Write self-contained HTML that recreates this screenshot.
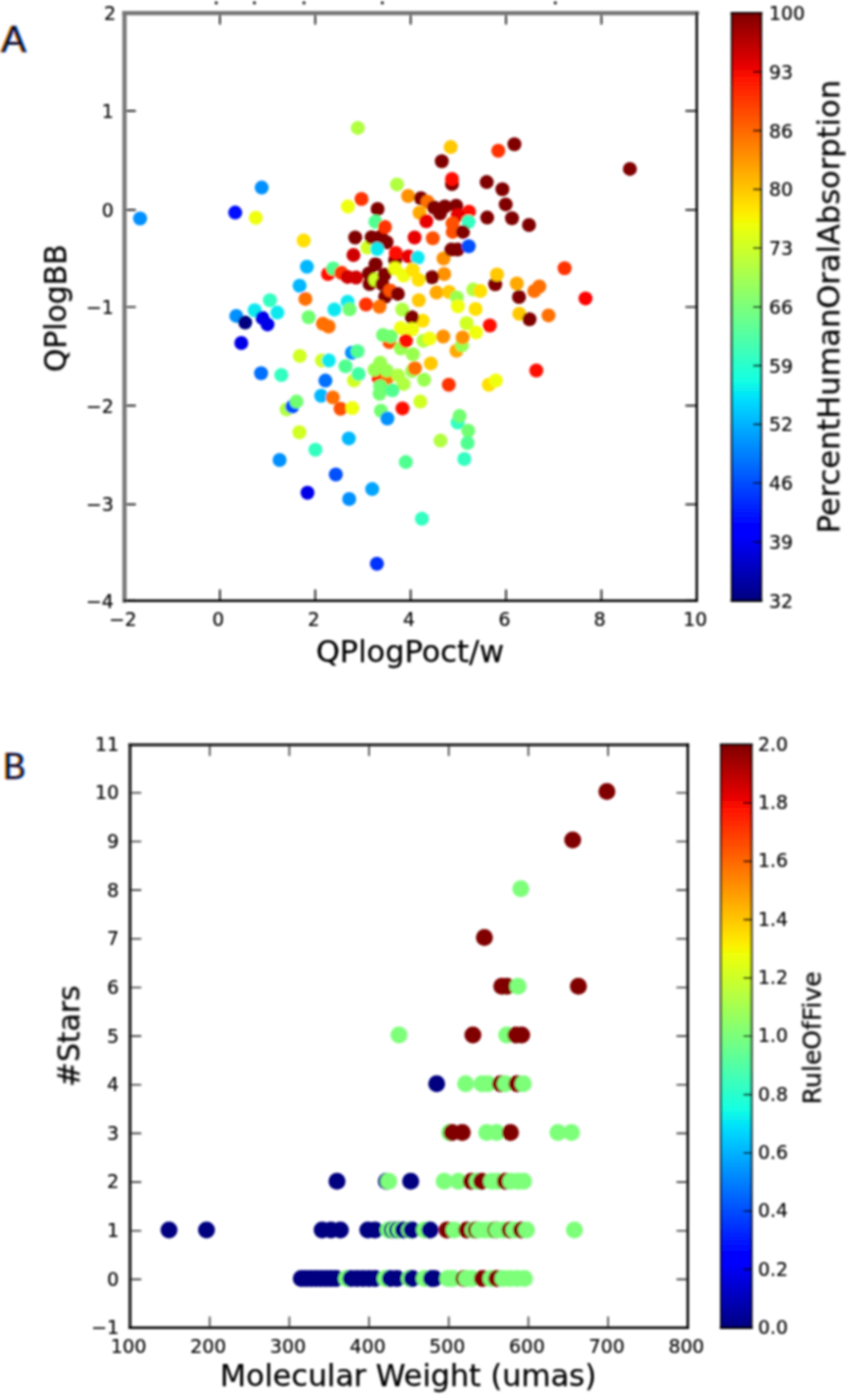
<!DOCTYPE html>
<html><head><meta charset="utf-8"><title>Figure</title>
<style>
html,body{margin:0;padding:0;background:#fff;}
body{width:847px;height:1397px;overflow:hidden;}
svg{display:block;}
.t{font-family:"DejaVu Sans","Liberation Sans",sans-serif;fill:#050505;stroke:#050505;stroke-width:0.25px;}
.k{font-family:"DejaVu Sans","Liberation Sans",sans-serif;fill:#000;stroke:#000;stroke-width:0.2px;}
.pf{font-family:"Liberation Sans","DejaVu Sans",sans-serif;stroke-width:0.5px;}
.p{font-family:"Liberation Sans","DejaVu Sans",sans-serif;fill:#000;stroke:#000;stroke-width:0.5px;}
</style></head><body>
<svg width="847" height="1397" viewBox="0 0 847 1397">
<defs><linearGradient id="jet" x1="0" y1="0" x2="0" y2="1"><stop offset="0.0000" stop-color="#800000"/><stop offset="0.0156" stop-color="#920000"/><stop offset="0.0312" stop-color="#a40000"/><stop offset="0.0469" stop-color="#b60000"/><stop offset="0.0625" stop-color="#c80000"/><stop offset="0.0781" stop-color="#da0000"/><stop offset="0.0938" stop-color="#ec0400"/><stop offset="0.1094" stop-color="#fe1200"/><stop offset="0.1250" stop-color="#ff2100"/><stop offset="0.1406" stop-color="#ff3000"/><stop offset="0.1562" stop-color="#ff3f00"/><stop offset="0.1719" stop-color="#ff4d00"/><stop offset="0.1875" stop-color="#ff5c00"/><stop offset="0.2031" stop-color="#ff6b00"/><stop offset="0.2188" stop-color="#ff7a00"/><stop offset="0.2344" stop-color="#ff8800"/><stop offset="0.2500" stop-color="#ff9700"/><stop offset="0.2656" stop-color="#ffa600"/><stop offset="0.2812" stop-color="#ffb500"/><stop offset="0.2969" stop-color="#ffc300"/><stop offset="0.3125" stop-color="#ffd200"/><stop offset="0.3281" stop-color="#ffe100"/><stop offset="0.3438" stop-color="#fcf000"/><stop offset="0.3594" stop-color="#effe08"/><stop offset="0.3750" stop-color="#e2ff15"/><stop offset="0.3906" stop-color="#d5ff21"/><stop offset="0.4062" stop-color="#c9ff2e"/><stop offset="0.4219" stop-color="#bcff3b"/><stop offset="0.4375" stop-color="#afff48"/><stop offset="0.4531" stop-color="#a2ff55"/><stop offset="0.4688" stop-color="#95ff62"/><stop offset="0.4844" stop-color="#88ff6f"/><stop offset="0.5000" stop-color="#7bff7b"/><stop offset="0.5156" stop-color="#6fff88"/><stop offset="0.5312" stop-color="#62ff95"/><stop offset="0.5469" stop-color="#55ffa2"/><stop offset="0.5625" stop-color="#48ffaf"/><stop offset="0.5781" stop-color="#3bffbc"/><stop offset="0.5938" stop-color="#2effc9"/><stop offset="0.6094" stop-color="#21ffd5"/><stop offset="0.6250" stop-color="#15ffe2"/><stop offset="0.6406" stop-color="#08efef"/><stop offset="0.6562" stop-color="#00dffc"/><stop offset="0.6719" stop-color="#00cfff"/><stop offset="0.6875" stop-color="#00bfff"/><stop offset="0.7031" stop-color="#00afff"/><stop offset="0.7188" stop-color="#009fff"/><stop offset="0.7344" stop-color="#008fff"/><stop offset="0.7500" stop-color="#0080ff"/><stop offset="0.7656" stop-color="#0070ff"/><stop offset="0.7812" stop-color="#0060ff"/><stop offset="0.7969" stop-color="#0050ff"/><stop offset="0.8125" stop-color="#0040ff"/><stop offset="0.8281" stop-color="#0030ff"/><stop offset="0.8438" stop-color="#0020ff"/><stop offset="0.8594" stop-color="#0010ff"/><stop offset="0.8750" stop-color="#0000ff"/><stop offset="0.8906" stop-color="#0000fe"/><stop offset="0.9062" stop-color="#0000ec"/><stop offset="0.9219" stop-color="#0000da"/><stop offset="0.9375" stop-color="#0000c8"/><stop offset="0.9531" stop-color="#0000b6"/><stop offset="0.9688" stop-color="#0000a4"/><stop offset="0.9844" stop-color="#000092"/><stop offset="1.0000" stop-color="#000080"/></linearGradient>
<filter id="soft" x="-5%" y="-5%" width="110%" height="110%"><feGaussianBlur stdDeviation="0.85"/></filter><filter id="softd" x="-5%" y="-5%" width="110%" height="110%"><feGaussianBlur stdDeviation="0.85"/></filter><filter id="fringe" x="-20%" y="-20%" width="140%" height="140%"><feOffset in="SourceAlpha" dx="-1" dy="0" result="a1"/><feFlood flood-color="#ff9a20"/><feComposite in2="a1" operator="in" result="c1"/><feOffset in="SourceAlpha" dx="1" dy="0" result="a2"/><feFlood flood-color="#2080ff"/><feComposite in2="a2" operator="in" result="c2"/><feMerge result="m"><feMergeNode in="c1"/><feMergeNode in="c2"/><feMergeNode in="SourceGraphic"/></feMerge><feGaussianBlur in="m" stdDeviation="0.85"/></filter><filter id="softk" x="-5%" y="-5%" width="110%" height="110%"><feGaussianBlur stdDeviation="0.85"/></filter><filter id="softt" x="-5%" y="-5%" width="110%" height="110%"><feGaussianBlur stdDeviation="0.85"/></filter></defs>
<rect width="847" height="1397" fill="#fff"/>
<g filter="url(#softd)">
<circle cx="140.1" cy="218.5" r="7.0" fill="#0090ff"/><circle cx="235.2" cy="212.6" r="7.0" fill="#0010ff"/><circle cx="261.7" cy="187.6" r="7.0" fill="#0090ff"/><circle cx="255.8" cy="217.8" r="7.0" fill="#f0ff10"/><circle cx="303.7" cy="240.5" r="7.0" fill="#ffe000"/><circle cx="306.9" cy="266.8" r="7.0" fill="#00b8ff"/><circle cx="299.6" cy="285.7" r="7.0" fill="#00b8ff"/><circle cx="305.4" cy="298.9" r="7.0" fill="#ff7000"/><circle cx="269.9" cy="300.3" r="7.0" fill="#30ffc0"/><circle cx="254.7" cy="310.2" r="7.0" fill="#10e8f0"/><circle cx="277.4" cy="312.6" r="7.0" fill="#10e8f0"/><circle cx="236.3" cy="315.9" r="7.0" fill="#0090ff"/><circle cx="245.2" cy="322.5" r="7.0" fill="#000080"/><circle cx="262.5" cy="318.0" r="7.0" fill="#0000e8"/><circle cx="267.5" cy="324.4" r="7.0" fill="#0000e8"/><circle cx="241.3" cy="343.0" r="7.0" fill="#0000e8"/><circle cx="308.6" cy="317.3" r="7.0" fill="#70ff70"/><circle cx="322.9" cy="323.7" r="7.0" fill="#ff7000"/><circle cx="328.6" cy="326.5" r="7.0" fill="#ff7000"/><circle cx="334.4" cy="309.5" r="7.0" fill="#10e8f0"/><circle cx="261.1" cy="373.3" r="7.0" fill="#0070ff"/><circle cx="281.3" cy="375.1" r="7.0" fill="#30ffc0"/><circle cx="299.8" cy="355.9" r="7.0" fill="#d0ff20"/><circle cx="322.0" cy="360.5" r="7.0" fill="#d0ff20"/><circle cx="328.8" cy="360.5" r="7.0" fill="#10e8f0"/><circle cx="325.4" cy="380.6" r="7.0" fill="#0070ff"/><circle cx="321.2" cy="395.8" r="7.0" fill="#00b8ff"/><circle cx="332.8" cy="397.4" r="7.0" fill="#ff7000"/><circle cx="340.5" cy="408.7" r="7.0" fill="#ff5000"/><circle cx="352.3" cy="408.0" r="7.0" fill="#f0ff10"/><circle cx="286.6" cy="409.4" r="7.0" fill="#b0ff40"/><circle cx="292.3" cy="406.6" r="7.0" fill="#0050ff"/><circle cx="296.5" cy="401.6" r="7.0" fill="#70ff70"/><circle cx="299.4" cy="432.3" r="7.0" fill="#d0ff20"/><circle cx="315.4" cy="449.8" r="7.0" fill="#30ffc0"/><circle cx="279.6" cy="460.0" r="7.0" fill="#0090ff"/><circle cx="335.8" cy="474.5" r="7.0" fill="#0050ff"/><circle cx="307.5" cy="492.7" r="7.0" fill="#0000e8"/><circle cx="348.8" cy="438.4" r="7.0" fill="#00b8ff"/><circle cx="349.2" cy="499.0" r="7.0" fill="#0090ff"/><circle cx="372.2" cy="489.1" r="7.0" fill="#00a4ff"/><circle cx="376.9" cy="563.7" r="7.0" fill="#0030ff"/><circle cx="421.9" cy="518.7" r="7.0" fill="#30ffc0"/><circle cx="405.8" cy="462.1" r="7.0" fill="#50ff90"/><circle cx="440.5" cy="440.6" r="7.0" fill="#b0ff40"/><circle cx="457.6" cy="422.5" r="7.0" fill="#30ffc0"/><circle cx="459.5" cy="416.0" r="7.0" fill="#70ff70"/><circle cx="468.2" cy="430.7" r="7.0" fill="#70ff70"/><circle cx="467.5" cy="443.0" r="7.0" fill="#50ff90"/><circle cx="464.3" cy="459.0" r="7.0" fill="#30ffc0"/><circle cx="357.8" cy="127.9" r="7.0" fill="#b0ff40"/><circle cx="450.7" cy="147.1" r="7.0" fill="#ffc800"/><circle cx="441.8" cy="161.2" r="7.0" fill="#800000"/><circle cx="498.3" cy="150.8" r="7.0" fill="#ff3000"/><circle cx="514.4" cy="144.2" r="7.0" fill="#800000"/><circle cx="452.0" cy="184.0" r="7.0" fill="#800000"/><circle cx="452.0" cy="179.0" r="7.0" fill="#ff1000"/><circle cx="486.7" cy="182.1" r="7.0" fill="#800000"/><circle cx="502.4" cy="189.3" r="7.0" fill="#800000"/><circle cx="505.7" cy="204.4" r="7.0" fill="#800000"/><circle cx="487.2" cy="217.6" r="7.0" fill="#800000"/><circle cx="512.0" cy="218.3" r="7.0" fill="#800000"/><circle cx="529.0" cy="225.0" r="7.0" fill="#800000"/><circle cx="629.9" cy="168.9" r="7.0" fill="#800000"/><circle cx="397.0" cy="184.4" r="7.0" fill="#b0ff40"/><circle cx="361.5" cy="199.0" r="7.0" fill="#ff3000"/><circle cx="347.9" cy="206.5" r="7.0" fill="#f0ff10"/><circle cx="377.6" cy="209.0" r="7.0" fill="#800000"/><circle cx="408.1" cy="196.0" r="7.0" fill="#ff9000"/><circle cx="420.9" cy="198.2" r="7.0" fill="#800000"/><circle cx="427.6" cy="201.8" r="7.0" fill="#ff7000"/><circle cx="434.0" cy="207.5" r="7.0" fill="#800000"/><circle cx="444.9" cy="206.5" r="7.0" fill="#800000"/><circle cx="456.2" cy="205.8" r="7.0" fill="#800000"/><circle cx="440.0" cy="213.6" r="7.0" fill="#800000"/><circle cx="419.5" cy="212.8" r="7.0" fill="#ffa800"/><circle cx="426.3" cy="221.3" r="7.0" fill="#e80000"/><circle cx="469.0" cy="211.7" r="7.0" fill="#ff1000"/><circle cx="457.8" cy="215.2" r="7.0" fill="#e80000"/><circle cx="468.5" cy="221.7" r="7.0" fill="#30ffc0"/><circle cx="452.5" cy="223.4" r="7.0" fill="#ff5000"/><circle cx="452.7" cy="231.9" r="7.0" fill="#ff5000"/><circle cx="463.0" cy="231.9" r="7.0" fill="#800000"/><circle cx="432.8" cy="238.2" r="7.0" fill="#ff5000"/><circle cx="414.6" cy="237.5" r="7.0" fill="#e80000"/><circle cx="375.4" cy="221.7" r="7.0" fill="#50ff90"/><circle cx="367.5" cy="247.6" r="7.0" fill="#d0ff20"/><circle cx="355.2" cy="237.5" r="7.0" fill="#800000"/><circle cx="371.7" cy="237.3" r="7.0" fill="#800000"/><circle cx="380.9" cy="236.6" r="7.0" fill="#800000"/><circle cx="386.6" cy="242.3" r="7.0" fill="#800000"/><circle cx="384.9" cy="227.0" r="7.0" fill="#ff3000"/><circle cx="377.1" cy="249.0" r="7.0" fill="#10e8f0"/><circle cx="353.5" cy="255.0" r="7.0" fill="#d00000"/><circle cx="395.1" cy="260.0" r="7.0" fill="#800000"/><circle cx="395.8" cy="252.9" r="7.0" fill="#ff1000"/><circle cx="408.6" cy="256.4" r="7.0" fill="#e80000"/><circle cx="417.8" cy="257.8" r="7.0" fill="#10e8f0"/><circle cx="443.5" cy="258.5" r="7.0" fill="#ff9000"/><circle cx="451.3" cy="249.6" r="7.0" fill="#800000"/><circle cx="457.6" cy="249.6" r="7.0" fill="#800000"/><circle cx="468.7" cy="246.3" r="7.0" fill="#0050ff"/><circle cx="444.2" cy="274.0" r="7.0" fill="#ff9000"/><circle cx="432.1" cy="277.3" r="7.0" fill="#800000"/><circle cx="375.5" cy="264.2" r="7.0" fill="#800000"/><circle cx="328.0" cy="274.0" r="7.0" fill="#ff1000"/><circle cx="333.2" cy="268.5" r="7.0" fill="#50ff90"/><circle cx="341.3" cy="272.7" r="7.0" fill="#ff3000"/><circle cx="347.6" cy="276.9" r="7.0" fill="#d00000"/><circle cx="356.1" cy="277.6" r="7.0" fill="#d00000"/><circle cx="368.9" cy="273.4" r="7.0" fill="#800000"/><circle cx="369.6" cy="284.0" r="7.0" fill="#800000"/><circle cx="375.3" cy="279.8" r="7.0" fill="#d0ff20"/><circle cx="384.5" cy="274.8" r="7.0" fill="#800000"/><circle cx="382.3" cy="284.0" r="7.0" fill="#800000"/><circle cx="385.2" cy="296.8" r="7.0" fill="#800000"/><circle cx="390.1" cy="290.4" r="7.0" fill="#ff5000"/><circle cx="397.9" cy="293.9" r="7.0" fill="#800000"/><circle cx="395.1" cy="268.4" r="7.0" fill="#f0ff10"/><circle cx="403.6" cy="275.5" r="7.0" fill="#f0ff10"/><circle cx="412.8" cy="269.8" r="7.0" fill="#ffe000"/><circle cx="418.5" cy="279.8" r="7.0" fill="#ffe000"/><circle cx="436.5" cy="292.6" r="7.0" fill="#ffa800"/><circle cx="449.1" cy="292.0" r="7.0" fill="#ffc800"/><circle cx="456.9" cy="297.5" r="7.0" fill="#98ff50"/><circle cx="457.9" cy="306.2" r="7.0" fill="#f0ff10"/><circle cx="418.8" cy="300.3" r="7.0" fill="#ffc800"/><circle cx="366.0" cy="304.5" r="7.0" fill="#ff3000"/><circle cx="379.5" cy="306.7" r="7.0" fill="#ff7000"/><circle cx="347.6" cy="301.7" r="7.0" fill="#10e8f0"/><circle cx="349.5" cy="309.2" r="7.0" fill="#70ff70"/><circle cx="402.2" cy="309.5" r="7.0" fill="#b0ff40"/><circle cx="422.7" cy="320.8" r="7.0" fill="#ffe000"/><circle cx="411.8" cy="317.3" r="7.0" fill="#800000"/><circle cx="400.8" cy="327.9" r="7.0" fill="#f0ff10"/><circle cx="412.1" cy="329.3" r="7.0" fill="#f0ff10"/><circle cx="389.4" cy="342.1" r="7.0" fill="#ff5000"/><circle cx="383.0" cy="335.0" r="7.0" fill="#70ff70"/><circle cx="390.8" cy="336.4" r="7.0" fill="#70ff70"/><circle cx="423.4" cy="340.7" r="7.0" fill="#b0ff40"/><circle cx="429.5" cy="338.6" r="7.0" fill="#f0ff10"/><circle cx="443.2" cy="336.5" r="7.0" fill="#ff9000"/><circle cx="473.2" cy="289.6" r="7.0" fill="#b0ff40"/><circle cx="480.3" cy="291.0" r="7.0" fill="#ffe000"/><circle cx="475.6" cy="309.0" r="7.0" fill="#ffe000"/><circle cx="495.2" cy="284.2" r="7.0" fill="#800000"/><circle cx="497.0" cy="274.5" r="7.0" fill="#ffc800"/><circle cx="516.8" cy="283.5" r="7.0" fill="#ffa800"/><circle cx="519.0" cy="297.0" r="7.0" fill="#800000"/><circle cx="539.3" cy="286.5" r="7.0" fill="#ff7000"/><circle cx="534.3" cy="291.0" r="7.0" fill="#ff7000"/><circle cx="519.3" cy="313.8" r="7.0" fill="#ffc800"/><circle cx="529.5" cy="319.2" r="7.0" fill="#800000"/><circle cx="548.5" cy="315.4" r="7.0" fill="#ff7000"/><circle cx="564.6" cy="268.3" r="7.0" fill="#ff3000"/><circle cx="585.5" cy="298.4" r="7.0" fill="#ff0000"/><circle cx="489.8" cy="325.5" r="7.0" fill="#ff1000"/><circle cx="466.6" cy="323.2" r="7.0" fill="#d0ff20"/><circle cx="476.0" cy="332.4" r="7.0" fill="#f0ff10"/><circle cx="456.5" cy="350.8" r="7.0" fill="#ffa800"/><circle cx="461.9" cy="345.2" r="7.0" fill="#98ff50"/><circle cx="462.6" cy="337.4" r="7.0" fill="#ff9000"/><circle cx="430.8" cy="363.4" r="7.0" fill="#ffc800"/><circle cx="536.3" cy="370.5" r="7.0" fill="#ff1000"/><circle cx="488.8" cy="384.8" r="7.0" fill="#ffe000"/><circle cx="495.9" cy="380.5" r="7.0" fill="#f0ff10"/><circle cx="448.8" cy="384.8" r="7.0" fill="#ff3000"/><circle cx="351.9" cy="352.8" r="7.0" fill="#0090ff"/><circle cx="357.5" cy="351.3" r="7.0" fill="#50ff90"/><circle cx="345.5" cy="366.2" r="7.0" fill="#50ff90"/><circle cx="354.0" cy="380.4" r="7.0" fill="#d0ff20"/><circle cx="358.5" cy="374.0" r="7.0" fill="#40ffa0"/><circle cx="378.8" cy="378.3" r="7.0" fill="#ff1000"/><circle cx="387.0" cy="378.3" r="7.0" fill="#ff7000"/><circle cx="380.2" cy="362.7" r="7.0" fill="#98ff50"/><circle cx="374.5" cy="369.8" r="7.0" fill="#98ff50"/><circle cx="386.6" cy="370.5" r="7.0" fill="#98ff50"/><circle cx="397.9" cy="375.4" r="7.0" fill="#b0ff40"/><circle cx="403.6" cy="383.9" r="7.0" fill="#b0ff40"/><circle cx="380.2" cy="386.3" r="7.0" fill="#70ff70"/><circle cx="379.5" cy="393.8" r="7.0" fill="#70ff70"/><circle cx="392.3" cy="390.3" r="7.0" fill="#50ff90"/><circle cx="400.8" cy="348.5" r="7.0" fill="#98ff50"/><circle cx="406.0" cy="340.7" r="7.0" fill="#ff1000"/><circle cx="412.8" cy="354.2" r="7.0" fill="#98ff50"/><circle cx="412.0" cy="371.0" r="7.0" fill="#98ff50"/><circle cx="414.9" cy="368.3" r="7.0" fill="#ff7000"/><circle cx="424.1" cy="379.7" r="7.0" fill="#98ff50"/><circle cx="420.3" cy="401.6" r="7.0" fill="#d0ff20"/><circle cx="402.5" cy="408.4" r="7.0" fill="#ff1000"/><circle cx="380.9" cy="410.8" r="7.0" fill="#70ff70"/><circle cx="387.4" cy="418.5" r="7.0" fill="#0090ff"/>
<circle cx="301.3" cy="1278.6" r="8.5" fill="#000080"/><circle cx="306.0" cy="1278.6" r="8.5" fill="#000080"/><circle cx="311.0" cy="1278.6" r="8.5" fill="#000080"/><circle cx="316.0" cy="1278.6" r="8.5" fill="#000080"/><circle cx="321.0" cy="1278.6" r="8.5" fill="#000080"/><circle cx="326.0" cy="1278.6" r="8.5" fill="#000080"/><circle cx="331.0" cy="1278.6" r="8.5" fill="#000080"/><circle cx="336.0" cy="1278.6" r="8.5" fill="#000080"/><circle cx="346.7" cy="1278.6" r="8.5" fill="#7dff7a"/><circle cx="351.0" cy="1278.6" r="8.5" fill="#000080"/><circle cx="357.0" cy="1278.6" r="8.5" fill="#000080"/><circle cx="363.0" cy="1278.6" r="8.5" fill="#000080"/><circle cx="369.0" cy="1278.6" r="8.5" fill="#000080"/><circle cx="375.0" cy="1278.6" r="8.5" fill="#000080"/><circle cx="385.4" cy="1278.6" r="8.5" fill="#7dff7a"/><circle cx="390.4" cy="1278.6" r="8.5" fill="#000080"/><circle cx="397.0" cy="1278.6" r="8.5" fill="#000080"/><circle cx="409.5" cy="1278.6" r="8.5" fill="#7dff7a"/><circle cx="412.3" cy="1278.6" r="8.5" fill="#000080"/><circle cx="424.4" cy="1278.6" r="8.5" fill="#7dff7a"/><circle cx="431.5" cy="1278.6" r="8.5" fill="#000080"/><circle cx="434.3" cy="1278.6" r="8.5" fill="#000080"/><circle cx="447.8" cy="1278.6" r="8.5" fill="#7dff7a"/><circle cx="453.0" cy="1278.6" r="8.5" fill="#7dff7a"/><circle cx="464.0" cy="1278.6" r="8.5" fill="#800000"/><circle cx="466.5" cy="1278.6" r="8.5" fill="#7dff7a"/><circle cx="472.0" cy="1278.6" r="8.5" fill="#7dff7a"/><circle cx="482.5" cy="1278.6" r="8.5" fill="#800000"/><circle cx="491.0" cy="1278.6" r="8.5" fill="#7dff7a"/><circle cx="496.7" cy="1278.6" r="8.5" fill="#800000"/><circle cx="503.0" cy="1278.6" r="8.5" fill="#7dff7a"/><circle cx="510.0" cy="1278.6" r="8.5" fill="#7dff7a"/><circle cx="517.0" cy="1278.6" r="8.5" fill="#7dff7a"/><circle cx="524.5" cy="1278.6" r="8.5" fill="#7dff7a"/><circle cx="169.0" cy="1229.9" r="8.5" fill="#000080"/><circle cx="206.5" cy="1229.9" r="8.5" fill="#000080"/><circle cx="322.1" cy="1229.9" r="8.5" fill="#000080"/><circle cx="331.0" cy="1229.9" r="8.5" fill="#000080"/><circle cx="340.4" cy="1229.9" r="8.5" fill="#000080"/><circle cx="367.8" cy="1229.9" r="8.5" fill="#000080"/><circle cx="375.0" cy="1229.9" r="8.5" fill="#000080"/><circle cx="388.5" cy="1229.9" r="8.5" fill="#7dff7a"/><circle cx="392.2" cy="1229.9" r="8.5" fill="#000080"/><circle cx="394.3" cy="1229.9" r="8.5" fill="#7dff7a"/><circle cx="397.5" cy="1229.9" r="8.5" fill="#000080"/><circle cx="400.2" cy="1229.9" r="8.5" fill="#7dff7a"/><circle cx="403.4" cy="1229.9" r="8.5" fill="#000080"/><circle cx="409.7" cy="1229.9" r="8.5" fill="#7dff7a"/><circle cx="411.9" cy="1229.9" r="8.5" fill="#000080"/><circle cx="424.6" cy="1229.9" r="8.5" fill="#7dff7a"/><circle cx="430.0" cy="1229.9" r="8.5" fill="#000080"/><circle cx="447.0" cy="1229.9" r="8.5" fill="#800000"/><circle cx="454.2" cy="1229.9" r="8.5" fill="#7dff7a"/><circle cx="466.9" cy="1229.9" r="8.5" fill="#800000"/><circle cx="473.3" cy="1229.9" r="8.5" fill="#7dff7a"/><circle cx="476.1" cy="1229.9" r="8.5" fill="#800000"/><circle cx="479.0" cy="1229.9" r="8.5" fill="#7dff7a"/><circle cx="485.0" cy="1229.9" r="8.5" fill="#7dff7a"/><circle cx="491.0" cy="1229.9" r="8.5" fill="#7dff7a"/><circle cx="496.0" cy="1229.9" r="8.5" fill="#800000"/><circle cx="497.4" cy="1229.9" r="8.5" fill="#7dff7a"/><circle cx="503.0" cy="1229.9" r="8.5" fill="#7dff7a"/><circle cx="510.1" cy="1229.9" r="8.5" fill="#800000"/><circle cx="514.0" cy="1229.9" r="8.5" fill="#7dff7a"/><circle cx="521.5" cy="1229.9" r="8.5" fill="#800000"/><circle cx="526.5" cy="1229.9" r="8.5" fill="#7dff7a"/><circle cx="574.4" cy="1229.9" r="8.5" fill="#7dff7a"/><circle cx="337.0" cy="1181.2" r="8.5" fill="#000080"/><circle cx="386.5" cy="1181.2" r="8.5" fill="#000080"/><circle cx="388.7" cy="1181.2" r="8.5" fill="#7dff7a"/><circle cx="410.7" cy="1181.2" r="8.5" fill="#000080"/><circle cx="444.2" cy="1181.2" r="8.5" fill="#7dff7a"/><circle cx="458.3" cy="1181.2" r="8.5" fill="#7dff7a"/><circle cx="471.4" cy="1181.2" r="8.5" fill="#800000"/><circle cx="477.5" cy="1181.2" r="8.5" fill="#7dff7a"/><circle cx="481.7" cy="1181.2" r="8.5" fill="#800000"/><circle cx="491.6" cy="1181.2" r="8.5" fill="#7dff7a"/><circle cx="497.0" cy="1181.2" r="8.5" fill="#7dff7a"/><circle cx="505.4" cy="1181.2" r="8.5" fill="#800000"/><circle cx="510.8" cy="1181.2" r="8.5" fill="#7dff7a"/><circle cx="518.0" cy="1181.2" r="8.5" fill="#7dff7a"/><circle cx="523.5" cy="1181.2" r="8.5" fill="#7dff7a"/><circle cx="449.5" cy="1132.4" r="8.5" fill="#7dff7a"/><circle cx="452.0" cy="1132.4" r="8.5" fill="#800000"/><circle cx="462.3" cy="1132.4" r="8.5" fill="#800000"/><circle cx="486.7" cy="1132.4" r="8.5" fill="#7dff7a"/><circle cx="496.6" cy="1132.4" r="8.5" fill="#7dff7a"/><circle cx="510.5" cy="1132.4" r="8.5" fill="#800000"/><circle cx="557.9" cy="1132.4" r="8.5" fill="#7dff7a"/><circle cx="571.5" cy="1132.4" r="8.5" fill="#7dff7a"/><circle cx="436.7" cy="1083.7" r="8.5" fill="#000080"/><circle cx="465.6" cy="1083.7" r="8.5" fill="#7dff7a"/><circle cx="482.0" cy="1083.7" r="8.5" fill="#7dff7a"/><circle cx="487.7" cy="1083.7" r="8.5" fill="#7dff7a"/><circle cx="500.6" cy="1083.7" r="8.5" fill="#800000"/><circle cx="505.4" cy="1083.7" r="8.5" fill="#7dff7a"/><circle cx="517.0" cy="1083.7" r="8.5" fill="#800000"/><circle cx="523.3" cy="1083.7" r="8.5" fill="#7dff7a"/><circle cx="399.0" cy="1035.0" r="8.5" fill="#7dff7a"/><circle cx="472.9" cy="1035.0" r="8.5" fill="#800000"/><circle cx="506.7" cy="1035.0" r="8.5" fill="#7dff7a"/><circle cx="516.0" cy="1035.0" r="8.5" fill="#800000"/><circle cx="521.7" cy="1035.0" r="8.5" fill="#800000"/><circle cx="501.8" cy="986.3" r="8.5" fill="#800000"/><circle cx="507.0" cy="986.3" r="8.5" fill="#800000"/><circle cx="518.0" cy="986.3" r="8.5" fill="#7dff7a"/><circle cx="578.4" cy="986.3" r="8.5" fill="#800000"/><circle cx="484.4" cy="937.6" r="8.5" fill="#800000"/><circle cx="520.8" cy="888.8" r="8.5" fill="#7dff7a"/><circle cx="572.7" cy="840.1" r="8.5" fill="#800000"/><circle cx="606.9" cy="791.4" r="8.5" fill="#800000"/>
</g>
<g filter="url(#soft)">
<rect x="214.9" y="1.6" width="2.6" height="2.6" fill="#000"/><rect x="253.1" y="1.6" width="2.6" height="2.6" fill="#000"/><rect x="302.7" y="1.6" width="2.6" height="2.6" fill="#000"/><rect x="381.0" y="1.6" width="2.6" height="2.6" fill="#000"/><rect x="554.0" y="1.6" width="2.6" height="2.6" fill="#000"/><path d="M124.50 600.70v-11.30M124.50 13.10v11.30M219.88 600.70v-11.30M219.88 13.10v11.30M315.27 600.70v-11.30M315.27 13.10v11.30M410.65 600.70v-11.30M410.65 13.10v11.30M506.03 600.70v-11.30M506.03 13.10v11.30M601.42 600.70v-11.30M601.42 13.10v11.30M696.80 600.70v-11.30M696.80 13.10v11.30M124.50 13.10h11.30M696.80 13.10h-11.30M124.50 110.80h11.30M696.80 110.80h-11.30M124.50 209.80h11.30M696.80 209.80h-11.30M124.50 307.00h11.30M696.80 307.00h-11.30M124.50 405.60h11.30M696.80 405.60h-11.30M124.50 504.30h11.30M696.80 504.30h-11.30M124.50 600.70h11.30M696.80 600.70h-11.30" stroke="#111" stroke-width="1.7" fill="none"/>
<path d="M124.50 13.10V600.70" stroke="#747474" stroke-width="4.2" stroke-linecap="square"/><path d="M124.50 13.10H696.80" stroke="#747474" stroke-width="4.2" stroke-linecap="square"/><path d="M696.80 13.10V600.70" stroke="#000" stroke-width="2.4" stroke-linecap="square"/><path d="M124.50 600.70H696.80" stroke="#000" stroke-width="2.4" stroke-linecap="square"/>
<rect x="731.80" y="13.10" width="29.40" height="587.60" fill="url(#jet)"/>
<path d="M761.20 13.10h-8.00M761.20 71.86h-8.00M761.20 130.62h-8.00M761.20 189.38h-8.00M761.20 248.14h-8.00M761.20 306.90h-8.00M761.20 365.66h-8.00M761.20 424.42h-8.00M761.20 483.18h-8.00M761.20 541.94h-8.00M761.20 600.70h-8.00" stroke="#000" stroke-width="1.7" fill="none"/>
<path d="M731.80 13.10V600.70M761.20 13.10V600.70" fill="none" stroke="#000" stroke-width="1.9"/><path d="M731.80 13.10H761.20M731.80 600.70H761.20" fill="none" stroke="#000" stroke-width="2.4" stroke-linecap="square"/>
<path d="M130.00 1327.70v-11.30M130.00 744.80v11.30M209.69 1327.70v-11.30M209.69 744.80v11.30M289.37 1327.70v-11.30M289.37 744.80v11.30M369.06 1327.70v-11.30M369.06 744.80v11.30M448.74 1327.70v-11.30M448.74 744.80v11.30M528.43 1327.70v-11.30M528.43 744.80v11.30M608.11 1327.70v-11.30M608.11 744.80v11.30M687.80 1327.70v-11.30M687.80 744.80v11.30M130.00 744.80h11.30M687.80 744.80h-11.30M130.00 792.80h11.30M687.80 792.80h-11.30M130.00 841.46h11.30M687.80 841.46h-11.30M130.00 890.12h11.30M687.80 890.12h-11.30M130.00 938.78h11.30M687.80 938.78h-11.30M130.00 987.44h11.30M687.80 987.44h-11.30M130.00 1036.10h11.30M687.80 1036.10h-11.30M130.00 1084.76h11.30M687.80 1084.76h-11.30M130.00 1133.42h11.30M687.80 1133.42h-11.30M130.00 1182.08h11.30M687.80 1182.08h-11.30M130.00 1230.74h11.30M687.80 1230.74h-11.30M130.00 1279.40h11.30M687.80 1279.40h-11.30M130.00 1327.70h11.30M687.80 1327.70h-11.30" stroke="#3c3c3c" stroke-width="1.6" fill="none"/>
<path d="M130.00 744.80V1327.70" stroke="#0c0c0c" stroke-width="2.8" stroke-linecap="square"/><path d="M130.00 744.80H687.80" stroke="#0c0c0c" stroke-width="2.8" stroke-linecap="square"/><path d="M687.80 744.80V1327.70" stroke="#000" stroke-width="2.5" stroke-linecap="square"/><path d="M130.00 1327.70H687.80" stroke="#000" stroke-width="2.5" stroke-linecap="square"/>
<rect x="721.00" y="744.80" width="30.60" height="582.90" fill="url(#jet)"/>
<path d="M751.60 744.80h-8.00M751.60 803.09h-8.00M751.60 861.38h-8.00M751.60 919.67h-8.00M751.60 977.96h-8.00M751.60 1036.25h-8.00M751.60 1094.54h-8.00M751.60 1152.83h-8.00M751.60 1211.12h-8.00M751.60 1269.41h-8.00M751.60 1327.70h-8.00" stroke="#000" stroke-width="1.7" fill="none"/>
<path d="M721.00 744.80V1327.70M751.60 744.80V1327.70" fill="none" stroke="#000" stroke-width="1.9"/><path d="M721.00 744.80H751.60M721.00 1327.70H751.60" fill="none" stroke="#000" stroke-width="2.4" stroke-linecap="square"/>
</g>
<g filter="url(#softk)">
<text class="k" x="116.0" y="20.0" font-size="18.8" text-anchor="end">2</text>
<text class="k" x="113.6" y="117.7" font-size="18.8" text-anchor="end">1</text>
<text class="k" x="113.6" y="216.7" font-size="18.8" text-anchor="end">0</text>
<text class="k" x="113.6" y="313.9" font-size="18.8" text-anchor="end">−1</text>
<text class="k" x="113.6" y="412.5" font-size="18.8" text-anchor="end">−2</text>
<text class="k" x="113.6" y="511.2" font-size="18.8" text-anchor="end">−3</text>
<text class="k" x="113.6" y="607.6" font-size="18.8" text-anchor="end">−4</text>
<text class="k" x="122.9" y="626.2" font-size="18.8" text-anchor="middle">−2</text>
<text class="k" x="218.3" y="626.2" font-size="18.8" text-anchor="middle">0</text>
<text class="k" x="313.7" y="626.2" font-size="18.8" text-anchor="middle">2</text>
<text class="k" x="409.0" y="626.2" font-size="18.8" text-anchor="middle">4</text>
<text class="k" x="504.4" y="626.2" font-size="18.8" text-anchor="middle">6</text>
<text class="k" x="599.8" y="626.2" font-size="18.8" text-anchor="middle">8</text>
<text class="k" x="695.2" y="626.2" font-size="18.8" text-anchor="middle">10</text>
<text class="k" x="769.0" y="20.0" font-size="18.8">100</text>
<text class="k" x="769.0" y="78.7" font-size="18.8">93</text>
<text class="k" x="769.0" y="137.5" font-size="18.8">86</text>
<text class="k" x="769.0" y="196.2" font-size="18.8">80</text>
<text class="k" x="769.0" y="255.0" font-size="18.8">73</text>
<text class="k" x="769.0" y="313.8" font-size="18.8">66</text>
<text class="k" x="769.0" y="372.5" font-size="18.8">59</text>
<text class="k" x="769.0" y="431.3" font-size="18.8">52</text>
<text class="k" x="769.0" y="490.0" font-size="18.8">46</text>
<text class="k" x="769.0" y="548.8" font-size="18.8">39</text>
<text class="k" x="769.0" y="607.6" font-size="18.8">32</text>
<text class="k" x="119.0" y="751.2" font-size="18.8" text-anchor="end">11</text>
<text class="k" x="119.0" y="799.2" font-size="18.8" text-anchor="end">10</text>
<text class="k" x="119.0" y="847.8" font-size="18.8" text-anchor="end">9</text>
<text class="k" x="119.0" y="896.5" font-size="18.8" text-anchor="end">8</text>
<text class="k" x="119.0" y="945.1" font-size="18.8" text-anchor="end">7</text>
<text class="k" x="119.0" y="993.8" font-size="18.8" text-anchor="end">6</text>
<text class="k" x="119.0" y="1042.5" font-size="18.8" text-anchor="end">5</text>
<text class="k" x="119.0" y="1091.1" font-size="18.8" text-anchor="end">4</text>
<text class="k" x="119.0" y="1139.8" font-size="18.8" text-anchor="end">3</text>
<text class="k" x="119.0" y="1188.4" font-size="18.8" text-anchor="end">2</text>
<text class="k" x="119.0" y="1237.1" font-size="18.8" text-anchor="end">1</text>
<text class="k" x="119.0" y="1285.8" font-size="18.8" text-anchor="end">0</text>
<text class="k" x="119.0" y="1334.1" font-size="18.8" text-anchor="end">−1</text>
<text class="k" x="128.6" y="1353.3" font-size="18.8" text-anchor="middle">100</text>
<text class="k" x="208.3" y="1353.3" font-size="18.8" text-anchor="middle">200</text>
<text class="k" x="288.0" y="1353.3" font-size="18.8" text-anchor="middle">300</text>
<text class="k" x="367.7" y="1353.3" font-size="18.8" text-anchor="middle">400</text>
<text class="k" x="447.3" y="1353.3" font-size="18.8" text-anchor="middle">500</text>
<text class="k" x="527.0" y="1353.3" font-size="18.8" text-anchor="middle">600</text>
<text class="k" x="606.7" y="1353.3" font-size="18.8" text-anchor="middle">700</text>
<text class="k" x="686.4" y="1353.3" font-size="18.8" text-anchor="middle">800</text>
<text class="k" x="758.0" y="750.9" font-size="18.8">2.0</text>
<text class="k" x="758.0" y="809.2" font-size="18.8">1.8</text>
<text class="k" x="758.0" y="867.4" font-size="18.8">1.6</text>
<text class="k" x="758.0" y="925.7" font-size="18.8">1.4</text>
<text class="k" x="758.0" y="984.0" font-size="18.8">1.2</text>
<text class="k" x="758.0" y="1042.3" font-size="18.8">1.0</text>
<text class="k" x="758.0" y="1100.6" font-size="18.8">0.8</text>
<text class="k" x="758.0" y="1158.9" font-size="18.8">0.6</text>
<text class="k" x="758.0" y="1217.2" font-size="18.8">0.4</text>
<text class="k" x="758.0" y="1275.5" font-size="18.8">0.2</text>
<text class="k" x="758.0" y="1333.8" font-size="18.8">0.0</text>
</g>
<g filter="url(#softt)">
<text class="t" x="410.0" y="662.2" font-size="30.4" text-anchor="middle">QPlogPoct/w</text>
<text class="t" transform="translate(66.0 308.3) rotate(-90)" font-size="29.8" text-anchor="middle">QPlogBB</text>
<text class="t" transform="translate(839.3 306.7) rotate(-90)" font-size="30.5" text-anchor="middle">PercentHumanOralAbsorption</text>

<text class="t" x="408.3" y="1386.0" font-size="30.15" text-anchor="middle">Molecular Weight (umas)</text>
<text class="t" transform="translate(79.3 1036.2) rotate(-90)" font-size="29.8" text-anchor="middle">#Stars</text>
<text class="t" transform="translate(820.6 1037.8) rotate(-90)" font-size="25.1" text-anchor="middle">RuleOfFive</text>
</g>
<g filter="url(#fringe)"><text class="p" transform="translate(1.0 52.3) scale(1.0 1)" font-size="37.5">A</text>
<text class="p" transform="translate(3.2 779.4) scale(0.89 1)" font-size="37.5">B</text>
</g>
</svg>
</body></html>
